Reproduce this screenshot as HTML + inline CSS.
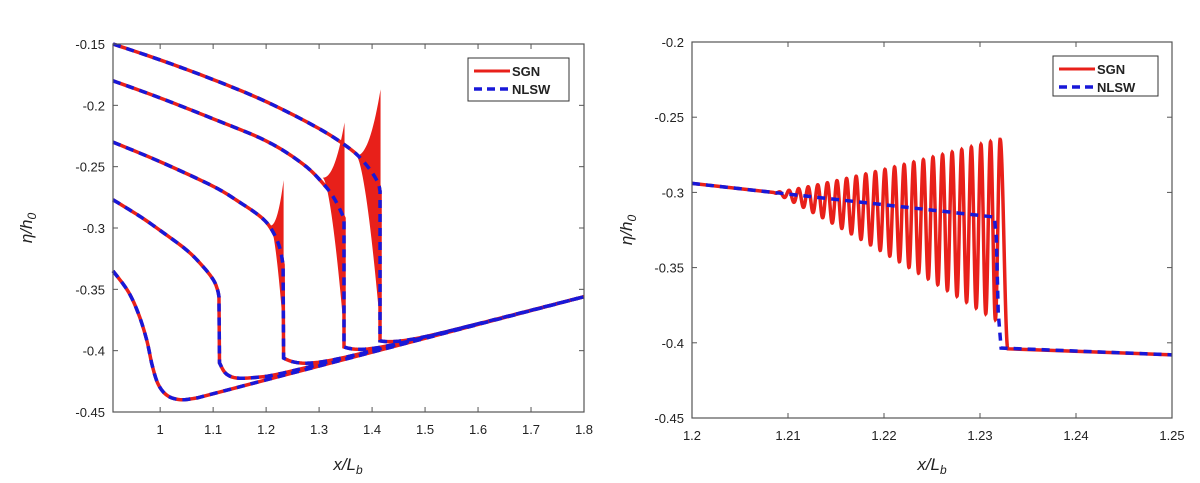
<!DOCTYPE html>
<html><head><meta charset="utf-8"><style>
html,body{margin:0;padding:0;background:#fff;}
svg{display:block;}
text{font-family:"Liberation Sans",Arial,sans-serif;fill:#222;}
</style></head><body>
<svg id="s" width="1200" height="483" xmlns="http://www.w3.org/2000/svg"></svg>
<script>
const S=document.getElementById('s');let H='';
function add(t){H+=t;}
function spline(pts,n){const out=[];for(let i=0;i<pts.length-1;i++){const p0=pts[Math.max(0,i-1)],p1=pts[i],p2=pts[i+1],p3=pts[Math.min(pts.length-1,i+2)];for(let k=0;k<n;k++){const t=k/n,t2=t*t,t3=t2*t;const f=(a,b,c,d)=>0.5*((2*b)+(-a+c)*t+(2*a-5*b+4*c-d)*t2+(-a+3*b-3*c+d)*t3);out.push([f(p0[0],p1[0],p2[0],p3[0]),f(p0[1],p1[1],p2[1],p3[1])]);}}out.push(pts[pts.length-1]);return out;}
function path(pts,X,Y){return pts.map((p,i)=>(i?'L':'M')+X(p[0]).toFixed(2)+' '+Y(p[1]).toFixed(2)).join('');}
function axes(x0,y0,x1,y1,xt,yt,X,Y,xl,yl){
 add(`<rect x="${x0}" y="${y0}" width="${x1-x0}" height="${y1-y0}" fill="none" stroke="#555" stroke-width="1.2"/>`);
 xt.forEach(v=>{const x=X(v);add(`<line x1="${x}" y1="${y1}" x2="${x}" y2="${y1-5}" stroke="#555"/><line x1="${x}" y1="${y0}" x2="${x}" y2="${y0+5}" stroke="#555"/><text x="${x}" y="${y1+22}" font-size="13" text-anchor="middle">${xl(v)}</text>`);});
 yt.forEach(v=>{const y=Y(v);add(`<line x1="${x0}" y1="${y}" x2="${x0+5}" y2="${y}" stroke="#555"/><line x1="${x1}" y1="${y}" x2="${x1-5}" y2="${y}" stroke="#555"/><text x="${x0-8}" y="${y+5}" font-size="13" text-anchor="end">${yl(v)}</text>`);});
}
function legend(x,y,w,h){
 add(`<rect x="${x}" y="${y}" width="${w}" height="${h}" fill="#fff" stroke="#333" stroke-width="1"/>`);
 add(`<line x1="${x+6}" y1="${y+13}" x2="${x+42}" y2="${y+13}" stroke="#e8201a" stroke-width="3"/><text x="${x+44}" y="${y+18}" font-size="13" font-weight="bold" fill="#111">SGN</text>`);
 add(`<line x1="${x+6}" y1="${y+31}" x2="${x+42}" y2="${y+31}" stroke="#1818d8" stroke-width="3.5" stroke-dasharray="8 5"/><text x="${x+44}" y="${y+36}" font-size="13" font-weight="bold" fill="#111">NLSW</text>`);
}
// LEFT
const LX=x=>113+(x-0.911)/0.889*471, LY=y=>44+(-0.15-y)/0.3*368;
const L=x=>-0.44+(x-1.04)*0.1105;
function post(xs,yj,x1){const a=[];for(let x=xs;x<=x1+1e-9;x+=0.005){a.push([x,L(x)+(yj-L(xs))*Math.exp(-(x-xs)/0.035)]);}return a;}
const curves=[
 {pre:[[0.911,-0.15],[1.0,-0.163],[1.1,-0.179],[1.2,-0.197],[1.3,-0.219],[1.36,-0.236],[1.39,-0.249],[1.41,-0.262],[1.415,-0.27]],xs:1.415,yj:-0.392,end:1.8},
 {pre:[[0.911,-0.18],[1.0,-0.194],[1.1,-0.211],[1.2,-0.229],[1.27,-0.248],[1.31,-0.265],[1.33,-0.277],[1.347,-0.292]],xs:1.347,yj:-0.397,end:1.6},
 {pre:[[0.911,-0.23],[1.0,-0.246],[1.1,-0.266],[1.15,-0.279],[1.19,-0.291],[1.21,-0.301],[1.225,-0.315],[1.232,-0.33]],xs:1.233,yj:-0.406,end:1.5},
 {pre:[[0.911,-0.277],[0.96,-0.29],[1.0,-0.302],[1.05,-0.318],[1.08,-0.331],[1.1,-0.342],[1.108,-0.35],[1.111,-0.356]],xs:1.112,yj:-0.41,end:1.4,c4:true},
];
const C5=spline([[0.911,-0.335],[0.94,-0.352],[0.96,-0.371],[0.975,-0.392],[0.985,-0.412],[0.997,-0.428],[1.015,-0.437],[1.04,-0.44],[1.07,-0.4385]],8).concat([[1.8,L(1.8)]]);
function spike(x0,y0,xs,yt,yb,xb){const t=[];for(let i=0;i<=20;i++){const u=i/20;t.push([x0+(xs-x0)*u,y0+(yt-y0)*Math.pow(u,2.2)]);}
 const b=[];for(let i=20;i>=0;i--){const u=i/20;b.push([x0+(xb-x0)*u,y0+(yb-y0)*Math.pow(u,1.6)]);}
 return path(t.concat([[xs,yb-0.02]]).concat(b),LX,LY)+'Z';}
add(`<path d="${spike(1.208,-0.298,1.233,-0.261,-0.365,1.229)}" fill="#e8201a"/>`);
add(`<path d="${spike(1.307,-0.259,1.348,-0.214,-0.37,1.344)}" fill="#e8201a"/>`);
add(`<path d="${spike(1.37,-0.241,1.416,-0.187,-0.36,1.411)}" fill="#e8201a"/>`);
let Ld=[];
curves.forEach(c=>{let p=spline(c.pre,8);p.push([c.xs,c.yj]);
 if(c.c4){p=p.concat(spline([[1.112,-0.41],[1.125,-0.419],[1.15,-0.4225],[1.2,-0.421]],6));p=p.concat(post(1.2,-0.421,c.end).slice(1));}
 else p=p.concat(post(c.xs,c.yj,c.end));Ld.push(path(p,LX,LY));});
Ld.push(path(C5,LX,LY));
Ld.forEach(d=>add(`<path d="${d}" fill="none" stroke="#e8201a" stroke-width="3.5"/>`));
Ld.forEach(d=>add(`<path d="${d}" fill="none" stroke="#1818d8" stroke-width="3.5" stroke-dasharray="8 6"/>`));
axes(113,44,584,412,[1,1.1,1.2,1.3,1.4,1.5,1.6,1.7,1.8],[-0.45,-0.4,-0.35,-0.3,-0.25,-0.2,-0.15],LX,LY,v=>String(+v.toFixed(1)),v=>String(+v.toFixed(2)));
legend(468,58,101,43);
add(`<text x="348" y="470" font-size="17" font-family="Liberation Serif" text-anchor="middle" font-style="italic">x/L<tspan font-size="12" dy="4">b</tspan></text>`);
add(`<text transform="translate(32,228) rotate(-90)" font-size="17" font-family="Liberation Serif" text-anchor="middle" font-style="italic">η/h<tspan font-size="12" dy="4">0</tspan></text>`);
// RIGHT
const RX=x=>692+(x-1.2)/0.05*480, RY=y=>42+(-0.2-y)/0.25*376;
const m=x=>-0.294-(x-1.2)*0.71;
let sg=[];const P=0.001;
for(let x=1.2;x<=1.2321;x+=0.00001){let s=Math.max(0,(x-1.2085)/0.0215);const A=0.055*Math.pow(s,1.1);const c=m(x)-0.008*s;sg.push([x,c+A*Math.cos(2*Math.PI*(x-1.2321)/P)]);}
const yp=sg[sg.length-1][1];
for(let x=1.2321;x<=1.2329;x+=0.00002){const u=(x-1.2321)/0.0008;sg.push([x,yp+(-0.404-yp)*(0.5-0.5*Math.cos(Math.PI*u))]);}
sg.push([1.25,-0.408]);
add(`<path d="${path(sg,RX,RY)}" fill="none" stroke="#e8201a" stroke-width="3.5"/>`);
const nl=[[1.2,-0.294],[1.2315,-0.3164],[1.2317,-0.33],[1.2319,-0.38],[1.2322,-0.4035],[1.25,-0.408]];
add(`<path d="${path(nl,RX,RY)}" fill="none" stroke="#1818d8" stroke-width="3.5" stroke-dasharray="8 6"/>`);
axes(692,42,1172,418,[1.2,1.21,1.22,1.23,1.24,1.25],[-0.45,-0.4,-0.35,-0.3,-0.25,-0.2],RX,RY,v=>String(+v.toFixed(2)),v=>String(+v.toFixed(2)));
legend(1053,56,105,40);
add(`<text x="932" y="470" font-size="17" font-family="Liberation Serif" text-anchor="middle" font-style="italic">x/L<tspan font-size="12" dy="4">b</tspan></text>`);
add(`<text transform="translate(632,230) rotate(-90)" font-size="17" font-family="Liberation Serif" text-anchor="middle" font-style="italic">η/h<tspan font-size="12" dy="4">0</tspan></text>`);
S.innerHTML=H;
</script>
</body></html>
